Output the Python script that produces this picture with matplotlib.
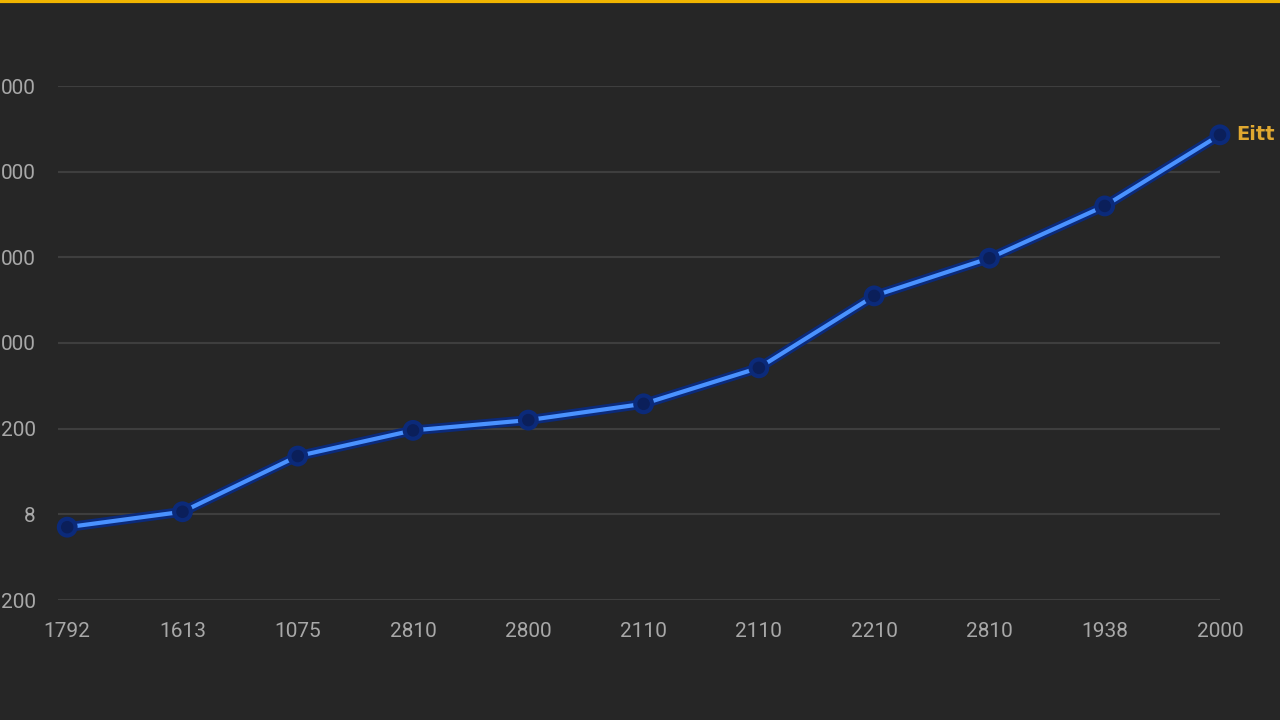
import matplotlib
matplotlib.use("Agg")
import matplotlib.pyplot as plt
import matplotlib.patheffects as pe

# values (tick text kept as it appears)
x_labels = ["1792", "1613", "1075", "2810", "2800", "2110", "2110", "2210", "2810", "1938", "2000"]
values = [370, 406, 536, 596, 620, 658, 742, 910, 998, 1120, 1286]
y_ticks = [200, 400, 600, 800, 1000, 1200, 1400]
y_labels = ["200", "8", "200", "000", "000", "000", "000"]
end_label = "Eitt"

narrow = ["Liberation Sans Narrow", "Roboto", "DejaVu Sans"]

bg = "#262626"
fig = plt.figure(figsize=(12.8, 7.2), dpi=100, facecolor=bg)
ax = fig.add_axes([58 / 1280, 1 - 600 / 720, (1220 - 58) / 1280, (600 - 86) / 720])
ax.set_facecolor(bg)

xs = list(range(len(values)))
ax.plot(xs, values, color="#4a92ff", lw=3, marker="o", ms=8,
        mfc="#0b1f5a", mec="#0b1f5a", clip_on=False, zorder=5,
        path_effects=[pe.Stroke(linewidth=7, foreground="#0b2a7a"), pe.Normal()])

ax.set_xlim(-0.08, 10)
ax.set_ylim(200, 1400)
ax.set_yticks(y_ticks)
ax.set_yticklabels(y_labels, family=narrow, fontsize=15)
ax.set_xticks(xs)
ax.set_xticklabels(x_labels, family=narrow, fontsize=15)
ax.grid(axis="y", color="#3e3e3e", lw=1.5)
ax.tick_params(axis="both", length=0, colors="#a8a8a8")
ax.tick_params(axis="y", pad=16)
ax.tick_params(axis="x", pad=16)
for s in ax.spines.values():
    s.set_visible(False)

ax.annotate(end_label, (xs[-1], values[-1]), xytext=(12, 0), textcoords="offset points",
            color="#e0a830", fontsize=14, fontweight="bold", va="center", annotation_clip=False)

# thin gold strip along the top edge
fig.add_artist(plt.Line2D([0, 1], [0.998, 0.998], color="#f0b400", lw=3, transform=fig.transFigure))

fig.savefig("out.png", dpi=100, facecolor=bg)
